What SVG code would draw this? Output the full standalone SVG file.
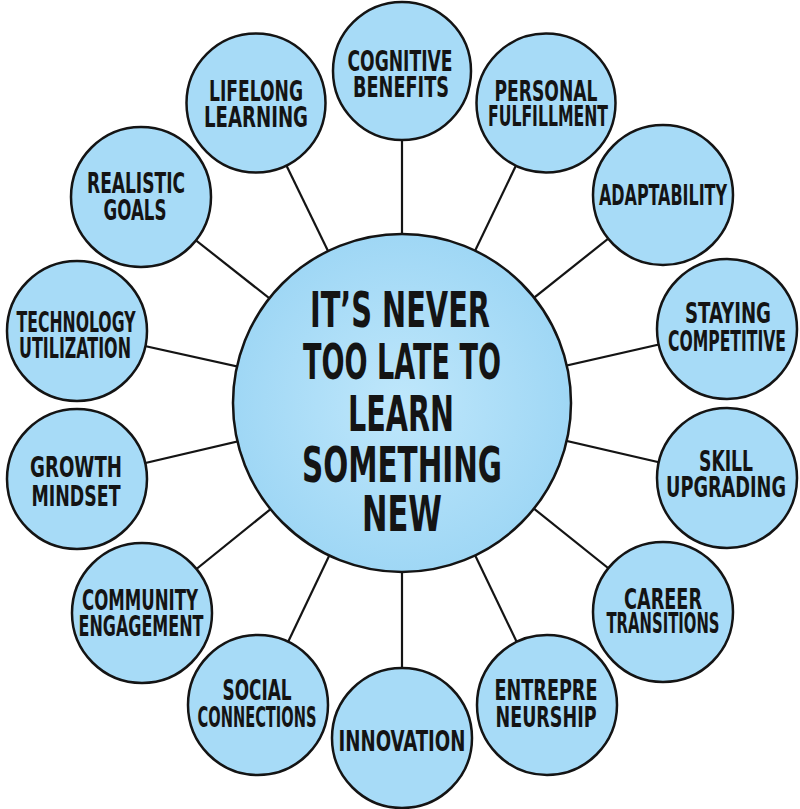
<svg xmlns="http://www.w3.org/2000/svg" width="800" height="809" viewBox="0 0 800 809">
<style>
.node{fill:#a7dbf7;stroke:#141414;stroke-width:2.5}
.hub{fill:url(#hubGrad);stroke:#141414;stroke-width:2.5}
.conn{stroke:#141414;stroke-width:2.2;fill:none}
.lbl{font-family:"DejaVu Sans Condensed","Liberation Sans",sans-serif;font-size:29px;font-weight:bold;fill:#141414;text-anchor:middle}
.big{font-family:"DejaVu Sans Condensed","Liberation Sans",sans-serif;font-size:50px;font-weight:bold;fill:#141414;text-anchor:middle}
</style>
<defs>
<radialGradient id="hubGrad" cx="0.5" cy="0.5" r="0.5">
<stop offset="0" stop-color="#bfe7fb"/>
<stop offset="1" stop-color="#9fd7f5"/>
</radialGradient>
</defs>
<rect width="800" height="809" fill="#ffffff"/>
<g id="connectors">
<line class="conn" x1="402" y1="403" x2="402" y2="71"/>
<line class="conn" x1="402" y1="403" x2="546" y2="103"/>
<line class="conn" x1="402" y1="403" x2="663" y2="195"/>
<line class="conn" x1="402" y1="403" x2="727" y2="329"/>
<line class="conn" x1="402" y1="403" x2="727" y2="478"/>
<line class="conn" x1="402" y1="403" x2="663" y2="612"/>
<line class="conn" x1="402" y1="403" x2="547" y2="705"/>
<line class="conn" x1="402" y1="403" x2="402" y2="738"/>
<line class="conn" x1="402" y1="403" x2="258" y2="705"/>
<line class="conn" x1="402" y1="403" x2="142" y2="613"/>
<line class="conn" x1="402" y1="403" x2="77" y2="479"/>
<line class="conn" x1="402" y1="403" x2="77" y2="331"/>
<line class="conn" x1="402" y1="403" x2="141" y2="197"/>
<line class="conn" x1="402" y1="403" x2="256" y2="103"/>
</g>
<g id="hub">
<circle class="hub" cx="402" cy="403" r="169"/>
<text class="big" x="400" y="327" textLength="180" lengthAdjust="spacingAndGlyphs">IT’S NEVER</text>
<text class="big" x="402" y="379" textLength="198" lengthAdjust="spacingAndGlyphs">TOO LATE TO</text>
<text class="big" x="401" y="431" textLength="106" lengthAdjust="spacingAndGlyphs">LEARN</text>
<text class="big" x="402" y="482" textLength="200" lengthAdjust="spacingAndGlyphs">SOMETHING</text>
<text class="big" x="402" y="531" textLength="80" lengthAdjust="spacingAndGlyphs">NEW</text>
</g>
<g id="cognitive-benefits">
<circle class="node" cx="402" cy="71" r="69"/>
<text class="lbl" x="400" y="71" textLength="105" lengthAdjust="spacingAndGlyphs">COGNITIVE</text>
<text class="lbl" x="401" y="97" textLength="96" lengthAdjust="spacingAndGlyphs">BENEFITS</text>
</g>
<g id="personal-fulfillment">
<circle class="node" cx="546" cy="103" r="69.5"/>
<text class="lbl" x="546" y="101" textLength="103" lengthAdjust="spacingAndGlyphs">PERSONAL</text>
<text class="lbl" x="548" y="126" textLength="120" lengthAdjust="spacingAndGlyphs">FULFILLMENT</text>
</g>
<g id="adaptability">
<circle class="node" cx="663" cy="195" r="70"/>
<text class="lbl" x="663" y="205" textLength="128" lengthAdjust="spacingAndGlyphs">ADAPTABILITY</text>
</g>
<g id="staying-competitive">
<circle class="node" cx="727" cy="329" r="70"/>
<text class="lbl" x="728" y="323" textLength="86" lengthAdjust="spacingAndGlyphs">STAYING</text>
<text class="lbl" x="727" y="351" textLength="118" lengthAdjust="spacingAndGlyphs">COMPETITIVE</text>
</g>
<g id="skill-upgrading">
<circle class="node" cx="727" cy="478" r="70"/>
<text class="lbl" x="726" y="471" textLength="54" lengthAdjust="spacingAndGlyphs">SKILL</text>
<text class="lbl" x="726" y="497" textLength="120" lengthAdjust="spacingAndGlyphs">UPGRADING</text>
</g>
<g id="career-transitions">
<circle class="node" cx="663" cy="612" r="70"/>
<text class="lbl" x="663" y="609" textLength="78" lengthAdjust="spacingAndGlyphs">CAREER</text>
<text class="lbl" x="663" y="633" textLength="113" lengthAdjust="spacingAndGlyphs">TRANSITIONS</text>
</g>
<g id="entrepreneurship">
<circle class="node" cx="547" cy="705" r="70"/>
<text class="lbl" x="546" y="700" textLength="103" lengthAdjust="spacingAndGlyphs">ENTREPRE</text>
<text class="lbl" x="546" y="727" textLength="101" lengthAdjust="spacingAndGlyphs">NEURSHIP</text>
</g>
<g id="innovation">
<circle class="node" cx="402" cy="738" r="70"/>
<text class="lbl" x="402" y="751" textLength="127" lengthAdjust="spacingAndGlyphs">INNOVATION</text>
</g>
<g id="social-connections">
<circle class="node" cx="258" cy="705" r="70"/>
<text class="lbl" x="257" y="700" textLength="69" lengthAdjust="spacingAndGlyphs">SOCIAL</text>
<text class="lbl" x="257" y="727" textLength="119" lengthAdjust="spacingAndGlyphs">CONNECTIONS</text>
</g>
<g id="community-engagement">
<circle class="node" cx="142" cy="613" r="70"/>
<text class="lbl" x="140" y="610" textLength="116" lengthAdjust="spacingAndGlyphs">COMMUNITY</text>
<text class="lbl" x="141" y="636" textLength="125" lengthAdjust="spacingAndGlyphs">ENGAGEMENT</text>
</g>
<g id="growth-mindset">
<circle class="node" cx="77" cy="479" r="70"/>
<text class="lbl" x="76" y="477" textLength="92" lengthAdjust="spacingAndGlyphs">GROWTH</text>
<text class="lbl" x="76" y="506" textLength="89" lengthAdjust="spacingAndGlyphs">MINDSET</text>
</g>
<g id="technology-utilization">
<circle class="node" cx="77" cy="331" r="70"/>
<text class="lbl" x="76" y="332" textLength="119" lengthAdjust="spacingAndGlyphs">TECHNOLOGY</text>
<text class="lbl" x="75" y="358" textLength="112" lengthAdjust="spacingAndGlyphs">UTILIZATION</text>
</g>
<g id="realistic-goals">
<circle class="node" cx="141" cy="197" r="70"/>
<text class="lbl" x="136" y="193" textLength="98" lengthAdjust="spacingAndGlyphs">REALISTIC</text>
<text class="lbl" x="135" y="220" textLength="63" lengthAdjust="spacingAndGlyphs">GOALS</text>
</g>
<g id="lifelong-learning">
<circle class="node" cx="256" cy="103" r="69.5"/>
<text class="lbl" x="256" y="101" textLength="94" lengthAdjust="spacingAndGlyphs">LIFELONG</text>
<text class="lbl" x="256" y="127" textLength="104" lengthAdjust="spacingAndGlyphs">LEARNING</text>
</g>
</svg>
